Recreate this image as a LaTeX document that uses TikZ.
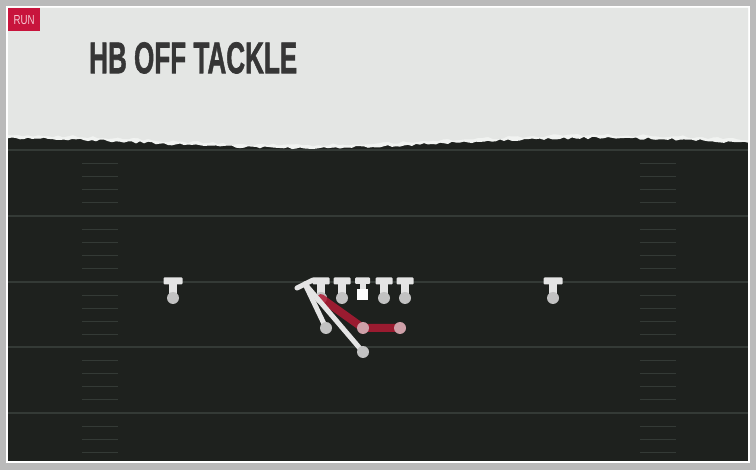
\documentclass[tikz,border=0pt]{standalone}
\usepackage{fontspec}
\setmainfont{Liberation Sans}
\newfontfamily\titlefont[FakeBold=1.6]{Liberation Sans}
\usepackage{tikz}

\definecolor{frame}{RGB}{186,186,186}
\definecolor{paper}{RGB}{228,230,228}
\definecolor{turf}{RGB}{30,33,30}
\definecolor{yard}{RGB}{52,58,54}
\definecolor{runred}{RGB}{176,26,52}
\definecolor{badge}{RGB}{200,20,60}
\definecolor{badgetext}{RGB}{246,200,210}
\definecolor{ink}{RGB}{54,54,54}
\definecolor{chalk}{RGB}{228,228,228}
\definecolor{dotgray}{RGB}{194,194,194}
\definecolor{pinkgray}{RGB}{206,160,168}

\begin{document}
\begin{tikzpicture}[
                x=1pt, y=-1pt,                 % pixel grid
                every node/.style={inner sep=0pt},
                dot/.style={circle, fill=dotgray, minimum size=12pt},
                reddot/.style={circle, fill=pinkgray, minimum size=12pt},
                route/.style={runred, line width=8pt, line cap=round, line join=round},
                block/.style={chalk, line width=5pt, line cap=round},
                yardline/.style={yard, line width=1.3pt},
                hash/.style={yard, line width=1pt}
            ]
                \useasboundingbox (0,0) rectangle (756,470);
                \fill[frame] (0,0) rectangle (756,470);
                \fill[white] (6,6) rectangle (750,463);
                \fill[turf] (8,8) rectangle (748,461);

                % field
                \begin{scope}
                \clip (8,8) rectangle (748,461);
                \foreach \y in {150,216,282,347,413} {
                    \draw[yardline] (8,\y) -- (748,\y);
                    \foreach \k in {1,...,4} {
                        \draw[hash] (82,{\y+13.1*\k}) -- (118,{\y+13.1*\k});
                        \draw[hash] (640,{\y+13.1*\k}) -- (676,{\y+13.1*\k});
                    }
                }
                \end{scope}

                % torn paper
                \pgfmathsetseed{7}
                \fill[white!50!paper] (748,8) -- (8,8)
                    \foreach \x in {8,12,...,748} { -- (\x,{143+5*cos((\x-300)*0.6)+1.2*rand}) }
                    -- cycle;
                \fill[paper] (748,8) -- (8,8)
                    \foreach \x in {8,13,...,748} { -- (\x,{140+5*cos((\x-300)*0.6)+1.5*rand}) }
                    -- cycle;

                % title and tag
                \node[anchor=north west, text=ink] (title) at (89,42)
                    {\resizebox{208pt}{31pt}{\titlefont\bfseries HB OFF TACKLE}};
                \node[fill=badge, minimum width=32pt, minimum height=23pt, anchor=north west] (badge) at (8,8) {};
                \node[text=badgetext] (run) at (badge.center) {\resizebox{21pt}{9pt}{RUN}};

                % players on the line
                \foreach \name/\x/\w in {wrl/173/9.5, lt/321/8.5, lg/342/8.5, rg/384/8.5, rt/405/8.5, wrr/553/9.5} {
                    \fill[chalk, rounded corners=1pt] (\x-\w,277.5) rectangle (\x+\w,284.5);
                    \fill[chalk] (\x-4,283) rectangle (\x+4,296);
                    \node[dot] (\name) at (\x,298) {};
                }
                \fill[chalk, rounded corners=1pt] (355,277.5) rectangle (370,284);
                \fill[chalk] (359.5,283) rectangle (365.5,290);
                \node[fill=white!92!chalk, minimum size=11pt] (c) at (362.5,295) {};

                % backs
                \coordinate (fb) at (326,328);
                \coordinate (hb) at (363,352);
                \coordinate (mesh) at (363,328);
                \coordinate (hole) at (400,328);
                \coordinate (hit) at (305,284);
                \coordinate (barl) at (297,288);
                \coordinate (barr) at (313,280);

                % run path and blocks
                \draw[route, opacity=0.85] (lt.center) -- (mesh) -- (hole);
                \draw[block] (fb) -- (hit);
                \draw[block] (hb) -- (hit);
                \draw[block] (barl) -- (barr);
                \node[dot] (fbdot) at (fb) {};
                \node[dot] (hbdot) at (hb) {};
                \node[reddot] (meshdot) at (mesh) {};
                \node[reddot] (holedot) at (hole) {};
            \end{tikzpicture}
\end{document}
